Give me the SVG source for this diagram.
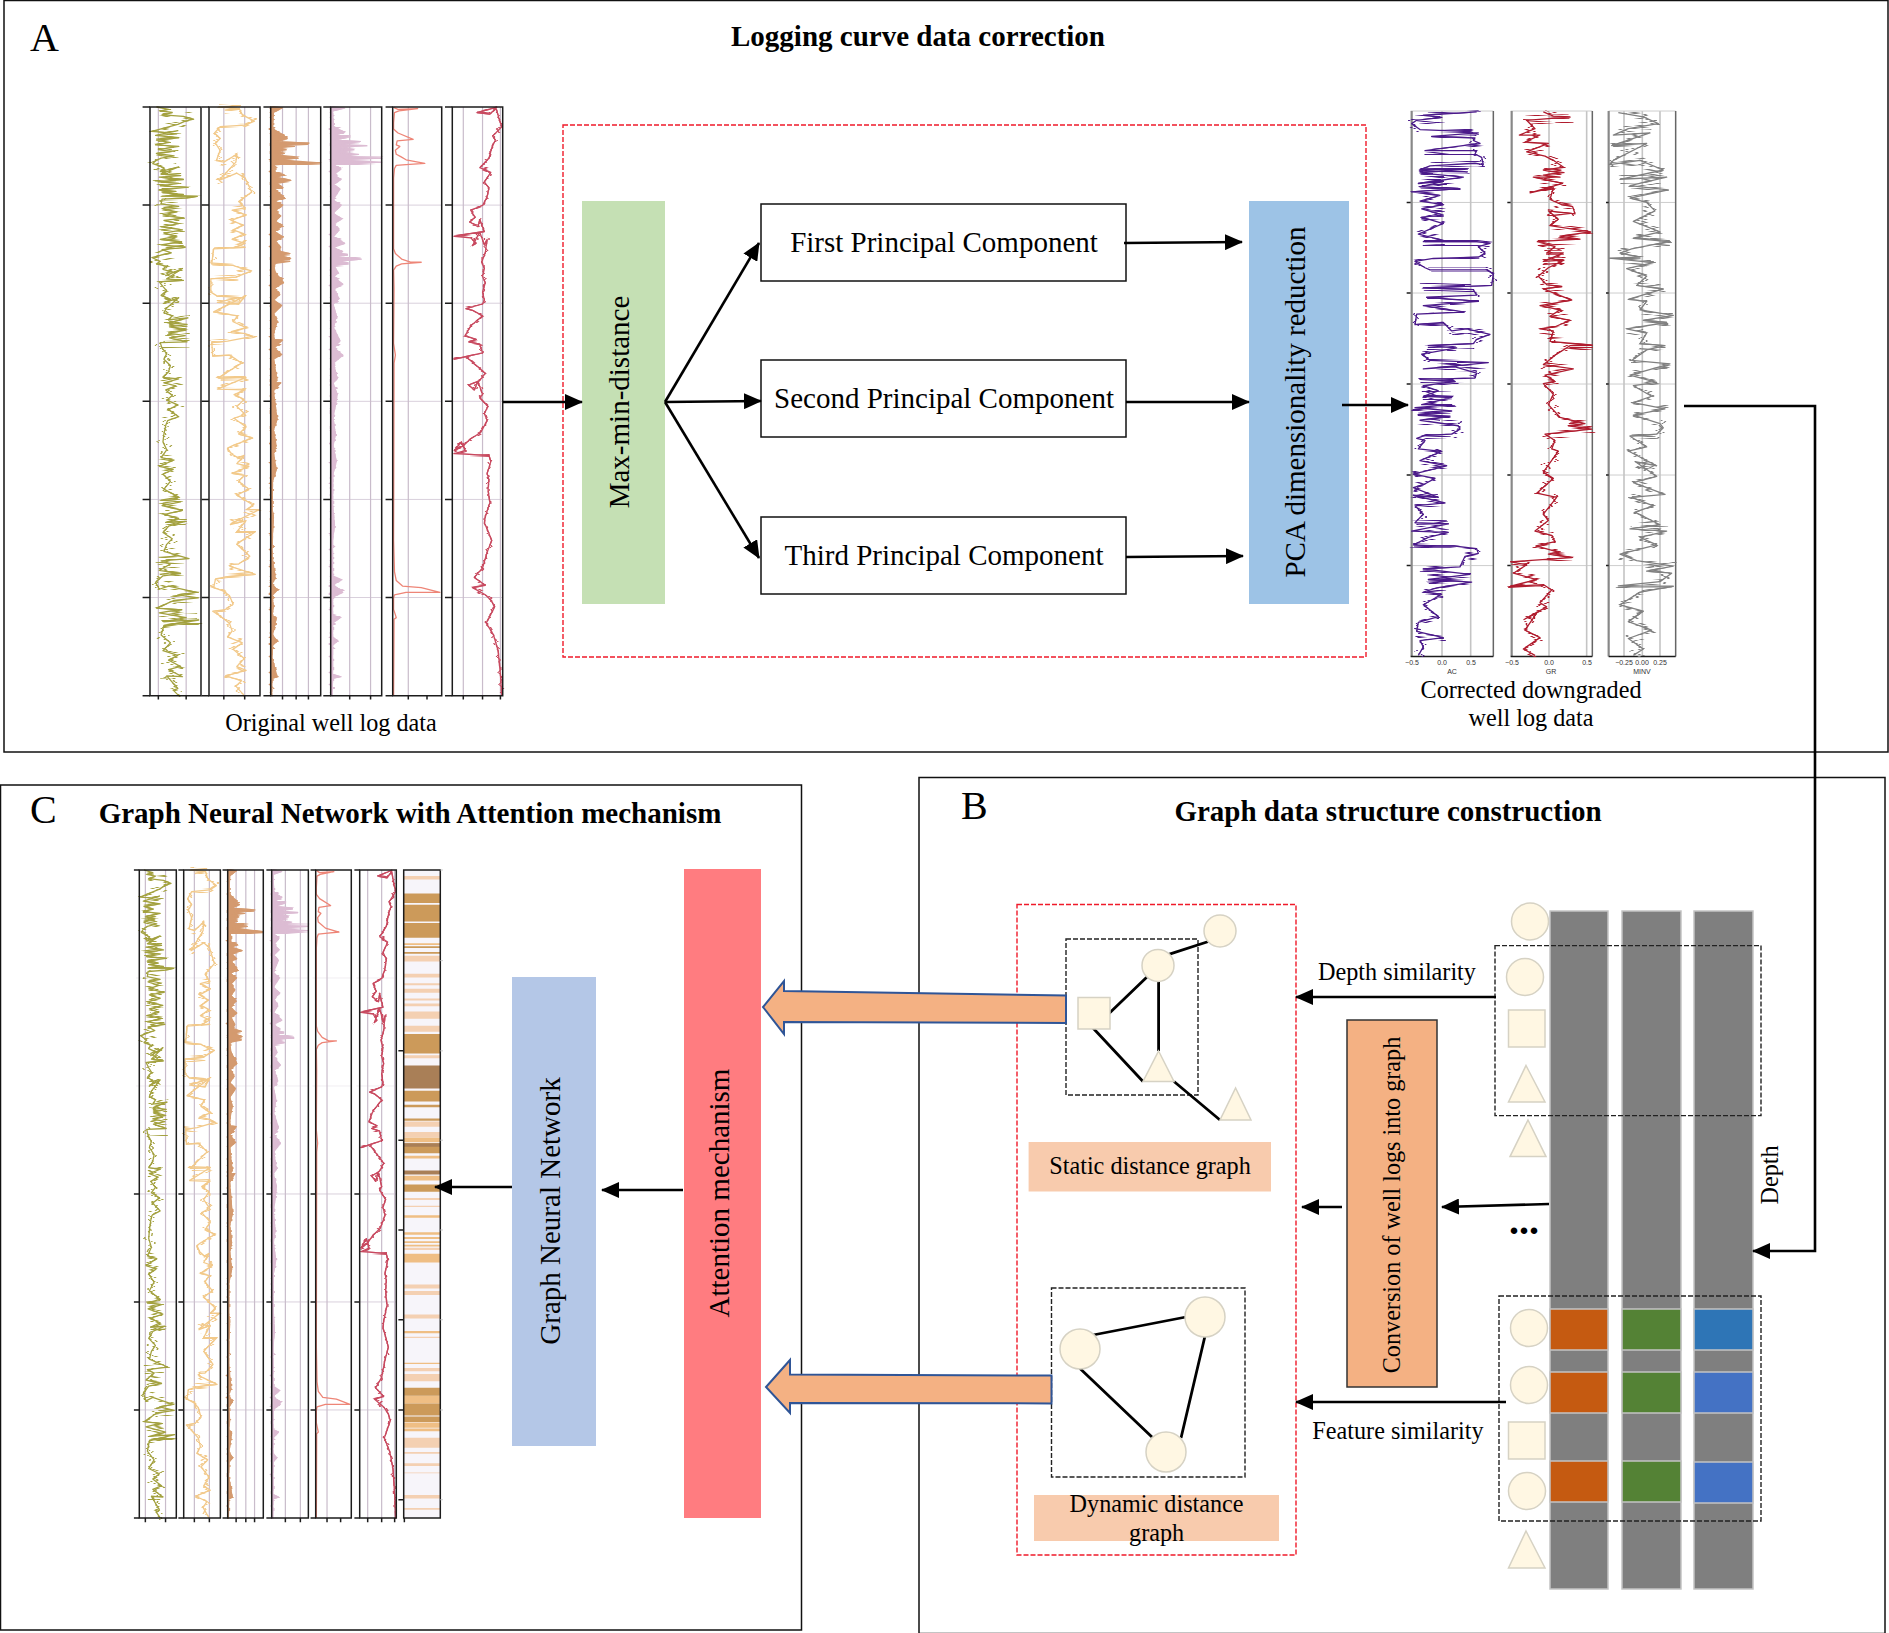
<svg xmlns="http://www.w3.org/2000/svg" xmlns:xlink="http://www.w3.org/1999/xlink" width="1889" height="1633" viewBox="0 0 1889 1633">
<style>
text{font-family:"Liberation Serif","Times New Roman",serif;fill:#000}
.b{font-weight:bold}
.m{text-anchor:middle}
.t{font-size:29px}
.s{font-size:24.2px}
.h{font-size:29px;font-weight:bold;text-anchor:middle}
.ax{font-family:"Liberation Sans",Arial,sans-serif;font-size:7px;fill:#333;text-anchor:middle}
.panel{fill:none;stroke:#111;stroke-width:1.5}
.red{fill:none;stroke:#f01a2a;stroke-width:1.4;stroke-dasharray:5 2}
.dash{fill:none;stroke:#222;stroke-width:1.4;stroke-dasharray:5 2}
.box{fill:#fff;stroke:#111;stroke-width:1.5}
.ar{fill:none;stroke:#000;stroke-width:2.6;marker-end:url(#ah)}
.ln{fill:none;stroke:#000;stroke-width:2.8}
.sh{fill:#fff7e3;stroke:#d6d2c4;stroke-width:1.5}
.big{fill:#f4b183;stroke:#2f5597;stroke-width:2}
.col{fill:#7f7f7f;stroke:#c4c4c4;stroke-width:1.5}
.cell{stroke:#c4c4c4;stroke-width:1.5}
.curve{fill:none;stroke-linejoin:round;vector-effect:non-scaling-stroke;stroke-width:1.3}
.fr{fill:none;stroke:#1c1c1c;stroke-width:1.5;vector-effect:non-scaling-stroke}
.gv{fill:none;stroke:#c9bccb;stroke-width:1.2;vector-effect:non-scaling-stroke}
.gh{fill:none;stroke:#d9d0dc;stroke-width:1;vector-effect:non-scaling-stroke}
.gl{fill:none;stroke:#f1eef2;stroke-width:1;vector-effect:non-scaling-stroke}
.gc{fill:none;stroke:#cdcdcd;stroke-width:1;vector-effect:non-scaling-stroke}
.gd{fill:none;stroke:#c4c4c4;stroke-width:1.6;vector-effect:non-scaling-stroke}
.jl{filter:url(#jl)}
.jm{filter:url(#jm)}
.js{filter:url(#js)}
.jc{filter:url(#jc)}
</style>
<defs>
<filter id="jl" x="-40%" y="-2%" width="180%" height="104%" color-interpolation-filters="sRGB"><feTurbulence type="fractalNoise" baseFrequency="0.0001 0.11" numOctaves="2" seed="3" result="n"/><feDisplacementMap in="SourceGraphic" in2="n" scale="60" xChannelSelector="R" yChannelSelector="A"/><feMorphology operator="dilate" radius="1 .5"/><feGaussianBlur stdDeviation=".6 .6"/></filter>
<filter id="jm" x="-40%" y="-2%" width="180%" height="104%" color-interpolation-filters="sRGB"><feTurbulence type="fractalNoise" baseFrequency="0.0001 0.09" numOctaves="2" seed="8" result="n"/><feDisplacementMap in="SourceGraphic" in2="n" scale="36" xChannelSelector="R" yChannelSelector="A"/><feMorphology operator="dilate" radius="1 .5"/><feGaussianBlur stdDeviation=".6 .6"/></filter>
<filter id="js" x="-40%" y="-2%" width="180%" height="104%" color-interpolation-filters="sRGB"><feTurbulence type="fractalNoise" baseFrequency="0.0001 0.1" numOctaves="2" seed="5" result="n"/><feDisplacementMap in="SourceGraphic" in2="n" scale="18" xChannelSelector="R" yChannelSelector="A"/><feMorphology operator="dilate" radius="1 .5"/><feGaussianBlur stdDeviation=".6 .6"/></filter>
<filter id="jc" x="-20%" y="-2%" width="140%" height="104%" color-interpolation-filters="sRGB"><feTurbulence type="fractalNoise" baseFrequency="0.0001 0.11" numOctaves="2" seed="11" result="n"/><feDisplacementMap in="SourceGraphic" in2="n" scale="50" xChannelSelector="R" yChannelSelector="A"/><feMorphology operator="dilate" radius="1 .5"/><feGaussianBlur stdDeviation=".6 .6"/></filter>
<marker id="ah" markerUnits="userSpaceOnUse" markerWidth="18" markerHeight="16" refX="17" refY="8" orient="auto"><path d="M0 0L18 8L0 16Z" fill="#000"/></marker>
<polyline id="c1" class="curve" stroke="#a3a13f" points="14,0 40,6 22,10 48,14 28,20 72,24 94,31 76,36 60,44 42,50 4,62 36,65 60,60 12,72 62,78 14,84 42,90 12,96 62,100 18,108 46,113 14,118 52,124 24,130 12,136 6,144 22,150 32,158 22,164 62,152 24,170 66,174 20,178 72,184 18,190 62,194 22,200 78,204 24,210 56,214 28,218 72,222 26,226 78,226 102,227 80,231 26,234 24,246 62,252 26,258 58,266 28,274 74,282 30,288 62,296 24,304 70,312 30,320 58,328 22,336 66,342 24,350 76,356 26,362 46,370 24,376 4,382 22,392 14,398 34,404 28,412 50,420 34,428 70,410 36,436 72,440 20,444 28,456 36,466 24,478 44,488 30,498 62,484 36,510 30,522 48,530 40,540 82,535 42,548 80,552 42,558 78,566 40,574 76,580 42,586 80,596 22,598 26,612 36,626 30,640 44,656 40,672 28,686 62,690 30,700 56,708 34,718 48,732 36,744 60,756 40,768 62,786 38,796 34,808 30,830 28,850 36,870 24,890 52,896 20,912 50,920 28,932 44,950 30,970 62,990 24,998 66,1002 26,1012 70,1024 32,1034 62,1044 34,1054 76,1052 40,1064 28,1080 48,1096 36,1110 30,1128 84,1146 24,1152 44,1160 20,1176 66,1184 28,1190 12,1206 20,1224 40,1216 100,1232 60,1238 104,1246 52,1252 14,1272 60,1276 20,1284 78,1296 30,1306 105,1302 30,1316 24,1340 44,1360 28,1380 60,1392 40,1404 66,1420 40,1428 70,1446 36,1444 60,1476 50,1480 62,1494"/>
<polyline id="c2" class="curve" stroke="#f2c98a" points="20,0 60,3 35,8 65,3 72,20 98,36 78,46 24,50 12,66 24,80 14,92 24,110 16,136 32,140 60,120 58,140 22,186 60,168 78,180 92,216 64,240 78,256 50,262 80,274 48,288 74,300 52,312 76,322 50,336 78,346 52,358 78,356 10,360 6,398 52,402 66,408 92,416 58,432 4,436 4,470 18,480 66,484 18,496 64,500 78,480 10,520 62,530 52,545 80,560 48,570 78,575 94,582 40,594 6,598 8,632 44,630 58,640 70,650 20,688 80,686 18,716 78,718 54,730 76,742 60,760 78,780 54,790 80,812 64,830 94,840 50,860 40,866 48,880 62,890 76,884 60,905 86,912 50,930 76,935 64,950 86,970 60,985 95,1010 80,1022 108,1022 50,1056 46,1060 80,1050 60,1078 100,1078 74,1098 60,1110 88,1140 64,1160 50,1160 44,1164 56,1170 100,1186 40,1192 14,1198 10,1220 30,1228 44,1240 52,1262 34,1276 8,1280 24,1292 44,1310 50,1330 40,1345 72,1360 52,1376 76,1400 60,1420 80,1430 36,1444 70,1456 58,1470 76,1494"/>
<polyline id="c3" class="curve" stroke="#d49a6f" style="fill:#d49a6f" points="0,0 8,0 26,2 6,14 4,50 10,60 30,72 8,76 36,80 6,88 84,92 8,96 52,100 10,104 34,108 10,112 30,118 8,124 60,130 18,134 108,142 8,146 10,166 30,172 10,178 44,186 12,192 26,204 8,208 30,230 8,238 26,250 8,264 22,276 10,290 26,302 8,316 28,330 10,340 22,356 14,366 42,372 14,376 44,384 16,390 42,392 14,396 6,400 10,420 28,446 8,460 20,476 6,490 24,504 6,524 14,544 6,576 8,590 26,592 6,610 24,628 6,640 14,694 6,700 22,700 6,720 10,760 14,792 6,820 12,860 6,880 12,920 4,950 3,1020 6,1040 4,1080 3,1140 10,1196 3,1210 14,1226 3,1240 6,1270 3,1290 12,1298 4,1340 14,1356 4,1366 3,1400 14,1446 3,1450 2,1494 0,1494"/>
<polyline id="c4" class="curve" stroke="#dcbcd3" style="fill:#dcbcd3" points="0,0 4,0 30,3 4,10 6,50 30,64 6,72 42,76 6,84 62,88 6,94 78,98 6,102 50,108 6,114 60,120 8,128 110,130 8,134 108,140 6,146 20,160 6,172 22,184 6,196 20,208 5,236 22,250 5,270 24,284 6,296 18,312 5,330 30,346 6,356 24,368 8,370 36,374 10,380 66,386 12,392 38,398 6,402 16,420 6,432 26,450 6,462 18,486 5,500 12,530 6,560 20,594 6,610 26,630 6,650 14,690 5,700 14,730 5,790 10,830 5,860 12,900 5,930 4,1010 8,1060 4,1100 4,1190 24,1200 5,1212 26,1232 4,1244 4,1290 20,1296 4,1310 4,1344 14,1356 4,1366 4,1440 20,1446 4,1450 3,1494 0,1494"/>
<polyline id="c5" class="curve" stroke="#ee8577" points="2,0 4,2 12,6 56,4 14,10 4,14 2,40 2,56 8,62 12,66 46,82 10,86 8,96 16,100 6,110 8,120 18,126 30,134 72,143 30,146 8,148 4,156 2,180 2,360 6,372 20,386 40,394 64,394 20,398 8,404 2,414 3,460 2,600 6,630 3,650 2,1100 4,1180 8,1202 22,1216 64,1220 106,1232 30,1232 4,1238 2,1246 2,1275 8,1296 3,1300 2,1494"/>
<polyline id="c6" class="curve" stroke="#c8495f" points="98,0 54,14 82,18 96,4 102,30 108,50 88,74 94,84 86,104 80,130 60,154 84,166 70,190 80,206 76,228 66,250 40,262 50,280 38,292 56,304 60,286 70,316 4,328 40,332 52,346 44,352 60,318 70,350 76,336 72,370 64,394 70,410 66,430 72,446 66,470 70,490 66,500 30,512 44,516 66,530 40,556 28,580 52,590 36,596 60,602 66,624 4,640 30,634 60,664 72,676 60,694 36,706 48,718 56,696 66,730 60,738 78,760 70,778 76,796 62,826 40,842 24,860 4,872 20,850 28,872 4,880 80,884 84,900 76,930 80,946 78,972 82,1004 72,1040 70,1056 78,1076 86,1100 76,1130 66,1170 48,1194 72,1214 44,1220 72,1238 86,1254 92,1270 74,1310 90,1340 100,1380 105,1440 108,1494"/>
<polyline id="p1" class="curve" stroke="#4b1a8a" points="290,50 130,58 185,63 110,70 95,78 120,92 270,97 280,100 295,100 155,108 285,112 280,118 300,125 135,142 290,142 285,150 305,158 310,175 285,172 150,178 118,188 262,186 120,195 250,205 115,220 190,215 120,228 240,232 95,240 180,248 120,262 190,270 125,280 190,295 125,300 190,315 115,340 190,355 130,358 290,358 330,362 295,370 315,385 295,395 160,398 105,405 135,420 150,425 320,425 340,435 335,462 130,468 280,472 290,485 140,490 295,500 130,510 250,525 110,530 105,555 190,550 215,570 260,565 330,578 290,590 280,600 145,605 230,610 125,625 150,640 325,645 130,660 225,655 290,670 285,682 120,685 225,690 130,700 175,712 130,725 215,728 125,745 215,745 105,752 215,760 115,768 210,772 120,782 235,795 240,803 215,815 135,818 110,825 135,830 115,850 185,856 120,878 200,890 100,910 165,920 130,935 100,942 175,965 100,960 195,978 105,985 130,1005 105,1025 205,1028 95,1045 205,1048 145,1060 100,1078 170,1080 220,1080 290,1087 295,1098 255,1105 240,1130 130,1135 270,1148 145,1160 275,1166 170,1180 130,1190 185,1195 130,1220 175,1248 115,1262 110,1283 190,1298 120,1305 130,1320 115,1340"/>
<polyline id="p2" class="curve" stroke="#b01c2e" points="490,50 520,60 570,62 440,70 465,90 418,105 480,105 435,122 505,125 440,145 495,155 520,165 552,182 490,188 540,195 490,200 540,205 460,205 548,220 450,242 520,230 510,258 545,270 578,275 585,292 505,285 535,305 510,320 632,335 540,345 600,352 472,358 525,370 500,385 550,385 490,405 552,402 505,420 475,440 500,460 545,465 490,470 575,497 480,510 540,520 510,535 570,545 525,560 480,565 520,570 510,595 637,604 570,605 530,625 490,650 580,660 495,675 525,690 490,695 520,720 505,745 540,775 615,790 565,795 635,803 495,815 525,830 515,850 535,855 490,905 520,920 470,955 530,965 490,1005 505,1020 465,1045 515,1055 525,1070 468,1080 535,1095 505,1100 575,1108 392,1118 440,1125 400,1145 470,1160 392,1176 490,1172 515,1185 480,1215 500,1225 432,1255 470,1240 435,1280 480,1298 430,1325 465,1340"/>
<polyline id="p3" class="curve" stroke="#808080" points="715,52 790,62 835,78 745,90 700,105 810,100 695,130 800,125 700,165 690,175 780,165 850,188 720,210 860,205 750,225 865,235 750,255 800,265 825,285 760,310 840,335 760,350 865,358 755,375 720,385 780,395 688,397 820,408 740,422 800,440 770,462 850,470 745,495 800,500 780,520 880,533 790,545 860,550 740,565 800,575 780,600 855,605 800,615 755,640 870,648 750,675 830,692 760,700 815,725 760,740 855,755 760,770 840,790 850,800 830,815 750,820 800,845 745,855 830,890 765,880 830,915 760,930 855,958 755,965 820,985 765,1000 840,1030 750,1040 860,1045 780,1060 830,1078 720,1100 770,1115 880,1128 800,1140 875,1145 840,1165 715,1175 880,1176 780,1190 720,1220 790,1235 745,1260 815,1280 745,1300 790,1325 760,1340"/>
<path id="fr" class="fr" d="M0 0H110V1494H0Z"/>
<path id="tk" class="fr" d="M-16 0H0M-16 249H0M-16 498H0M-16 747H0M-16 996H0M-16 1245H0M-16 1494H0"/>
<path id="hA" class="gh" d="M0 249H110M0 498H110M0 747H110M0 996H110M0 1245H110"/>
<path id="hC" class="gh" d="M0 747H110M0 996H110M0 1245H110"/>
<path id="hL" class="gl" d="M-10 249H110M-10 498H110"/>
<path id="tC" class="fr" d="M-16 0H0M-16 747H0M-16 996H0M-16 1245H0M-16 1494H0"/>
<path id="v1" class="gv" d="M18 0V1494M78 0V1494"/>
<path id="v2" class="gv" d="M32 0V1494M77 0V1494"/>
<path id="v3" class="gv" d="M26 0V1494M56 0V1494M83 0V1494"/>
<path id="v4" class="gv" d="M41 0V1494M86 0V1494"/>
<path id="v5" class="gv" d="M35 0V1494"/>
<path id="v6" class="gv" d="M24 0V1494M66 0V1494M105 0V1494"/>
<path id="b1" class="fr" d="M18 1494v10M78 1494v10"/>
<path id="b2" class="fr" d="M32 1494v10M77 1494v10"/>
<path id="b3" class="fr" d="M26 1494v10M56 1494v10M83 1494v10"/>
<path id="b4" class="fr" d="M41 1494v10M86 1494v10"/>
<path id="b5" class="fr" d="M35 1494v10M77 1494v10"/>
<path id="b6" class="fr" d="M24 1494v10M66 1494v10M105 1494v10"/>
</defs>

<g id="panel-A">
<rect class="panel" x="4" y="0.5" width="1884" height="751.5"/>
<text x="30" y="51" font-size="40">A</text>
<text class="h" x="918" y="46">Logging curve data correction</text>
</g>
<g id="panel-B">
<rect class="panel" x="919" y="777.5" width="966" height="856"/>
<text x="961" y="819" font-size="40">B</text>
<text class="h" x="1388" y="821">Graph data structure construction</text>
</g>
<g id="panel-C">
<rect class="panel" x="0.5" y="785" width="801" height="845"/>
<text x="30" y="823" font-size="40">C</text>
<text class="h" x="410" y="823">Graph Neural Network with Attention mechanism</text>
</g>

<g id="original-logs">
<g transform="translate(150,107) scale(.4636,.394)"><use href="#hA"/><use href="#v1"/><use href="#c1"/><use href="#c1" class="jl"/><use href="#fr"/><use href="#tk"/><use href="#b1"/></g>
<g transform="translate(209,107) scale(.4636,.394)"><use href="#hA"/><use href="#v2"/><use href="#c2"/><use href="#c2" class="jm"/><use href="#fr"/><use href="#tk"/><use href="#b2"/></g>
<g transform="translate(270.7,107) scale(.4545,.394)"><use href="#hA"/><use href="#v3"/><use href="#c3"/><use href="#c3" class="js"/><use href="#fr"/><use href="#tk"/><use href="#b3"/></g>
<g transform="translate(330.7,107) scale(.4636,.394)"><use href="#hA"/><use href="#v4"/><use href="#c4"/><use href="#c4" class="js"/><use href="#fr"/><use href="#tk"/><use href="#b4"/></g>
<g transform="translate(392.7,107) scale(.4455,.394)"><use href="#hA"/><use href="#v5"/><use href="#c5"/><use href="#fr"/><use href="#tk"/><use href="#b5"/></g>
<g transform="translate(452.3,107) scale(.4582,.394)"><use href="#hA"/><use href="#v6"/><use href="#c6"/><use href="#c6" class="js"/><use href="#fr"/><use href="#tk"/><use href="#b6"/></g>
<text class="s m" x="331" y="731">Original well log data</text>
</g>

<g id="red-frame-A"><rect class="red" x="563" y="125" width="803" height="532"/></g>
<g id="max-min"><rect x="582" y="201" width="83" height="403" fill="#c5e0b4"/><text class="t m" transform="translate(629,402) rotate(-90)">Max-min-distance</text></g>
<g id="pc1"><rect class="box" x="761" y="204" width="365" height="77"/><text class="t m" x="944" y="252">First Principal Component</text></g>
<g id="pc2"><rect class="box" x="761" y="360" width="365" height="77"/><text class="t m" x="944" y="408">Second Principal Component</text></g>
<g id="pc3"><rect class="box" x="761" y="517" width="365" height="77"/><text class="t m" x="944" y="565">Third Principal Component</text></g>
<g id="pca"><rect x="1249" y="201" width="100" height="403" fill="#9dc3e6"/><text class="t m" transform="translate(1305,402) rotate(-90)">PCA dimensionality reduction</text></g>

<g id="corrected-logs">
<g transform="translate(1380,90.8) scale(.33333,.4213)">
<path class="gc" d="M92 265H340M92 480H340M92 696H340M92 912H340M92 1127H340M392 265H637M392 480H637M392 696H637M392 912H637M392 1127H637M686 265H887M686 480H887M686 696H887M686 912H887M686 1127H887"/>
<path class="gd" d="M186 48V1343M272 48V1343M507 48V1343M620 48V1343M732 48V1343M787 48V1343M840 48V1343"/>
<path class="gc" d="M92 48H340M392 48H637M686 48H887"/>
<path class="fr" style="stroke:#888;stroke-width:2.2" d="M95 48V1343M395 48V1343M686 48V1343"/>
<path class="fr" style="stroke:#666" d="M340 48V1343M637 48V1343M887 48V1343"/>
<path class="fr" d="M92 1343H340M392 1343H637M686 1343H887M80 265H92M80 480H92M80 696H92M80 912H92M80 1127H92M382 265H392M382 480H392M382 696H392M382 912H392M382 1127H392M678 265H686M678 480H686M678 696H686M678 912H686M678 1127H686"/>
<use href="#p1"/><use href="#p1" class="jc"/>
<use href="#p2"/><use href="#p2" class="jc"/>
<use href="#p3"/><use href="#p3" class="jc"/>
</g>
<text class="ax" x="1412" y="665">−0.5</text><text class="ax" x="1442" y="665">0.0</text><text class="ax" x="1471" y="665">0.5</text>
<text class="ax" x="1512" y="665">−0.5</text><text class="ax" x="1549" y="665">0.0</text><text class="ax" x="1587" y="665">0.5</text>
<text class="ax" x="1624" y="665">−0.25</text><text class="ax" x="1642" y="665">0.00</text><text class="ax" x="1660" y="665">0.25</text>
<text class="ax" x="1452" y="674">AC</text><text class="ax" x="1551" y="674">GR</text><text class="ax" x="1642" y="674">MINV</text>
<text class="s m" x="1531" y="697.5">Corrected downgraded</text>
<text class="s m" x="1531" y="726">well log data</text>
</g>

<g id="gnn-logs">
<g transform="translate(139.3,870) scale(.3364,.4337)"><use href="#hC"/><use href="#hL"/><use href="#v1"/><use href="#c1"/><use href="#c1" class="jl"/><use href="#fr"/><use href="#tC"/><use href="#b1"/></g>
<g transform="translate(183.7,870) scale(.3333,.4337)"><use href="#hC"/><use href="#hL"/><use href="#v2"/><use href="#c2"/><use href="#c2" class="jm"/><use href="#fr"/><use href="#tC"/><use href="#b2"/></g>
<g transform="translate(227.7,870) scale(.3236,.4337)"><use href="#hC"/><use href="#hL"/><use href="#v3"/><use href="#c3"/><use href="#c3" class="js"/><use href="#fr"/><use href="#tC"/><use href="#b3"/></g>
<g transform="translate(271.7,870) scale(.3333,.4337)"><use href="#hC"/><use href="#hL"/><use href="#v4"/><use href="#c4"/><use href="#c4" class="js"/><use href="#fr"/><use href="#tC"/><use href="#b4"/></g>
<g transform="translate(315.7,870) scale(.3236,.4337)"><use href="#hC"/><use href="#hL"/><use href="#v5"/><use href="#c5"/><use href="#fr"/><use href="#tC"/><use href="#b5"/></g>
<g transform="translate(359.7,870) scale(.3327,.4337)"><use href="#hC"/><use href="#hL"/><use href="#v6"/><use href="#c6"/><use href="#c6" class="js"/><use href="#fr"/><use href="#tC"/><use href="#b6"/></g>
<g id="facies" transform="translate(403.7,870) scale(.3327,.4337)">
<rect width="110" height="1494" fill="#f7f5fa"/>
<path fill="#f4d0b2" d="M0 14h110v8H0ZM0 198h110v13H0ZM0 239h110v9H0ZM0 261h110v5H0ZM0 274h110v9H0ZM0 296h110v5H0ZM0 308h110v6H0ZM0 326h110v17H0ZM0 359h110v14H0ZM0 427h110v7H0ZM0 580h110v12H0ZM0 604h110v12H0ZM0 756h110v5H0ZM0 774h110v3H0ZM0 871h110v5H0ZM0 956h110v9H0ZM0 971h110v9H0ZM0 1025h110v9H0ZM0 1076h110v3H0ZM0 1148h110v8H0ZM0 1162h110v17H0ZM0 1309h110v23H0ZM0 1342h110v4H0ZM0 1368h110v6H0ZM0 1389h110v2H0ZM0 1441h110v8H0ZM0 1471h110v4H0Z"/>
<path fill="#efbe84" d="M0 169h110v4H0ZM0 617h110v11H0ZM0 659h110v6H0ZM0 705h110v11H0ZM0 796h110v6H0ZM0 835h110v6H0ZM0 846h110v5H0ZM0 856h110v4H0ZM0 864h110v4H0ZM0 885h110v20H0ZM0 1063h110v5H0ZM0 1136h110v3H0ZM0 1212h110v18H0ZM0 1274h110v12H0ZM0 1288h110v6H0Z"/>
<path fill="#cc9a5a" d="M0 54h110v22H0ZM0 80h110v39H0ZM0 122h110v34H0ZM0 176h110v4H0ZM0 189h110v4H0ZM0 378h110v45H0ZM0 509h110v25H0ZM0 541h110v6H0ZM0 573h110v5H0ZM0 630h110v23H0ZM0 725h110v17H0ZM0 1194h110v18H0ZM0 1230h110v28H0ZM0 1260h110v13H0Z"/>
<path fill="#a97f57" d="M0 451h110v53H0ZM0 630h110v8H0ZM0 693h110v9H0Z"/>
<use href="#fr"/>
<path class="fr" d="M-16 417H0M-16 623H0M-16 830H0M-16 1037H0M-16 1245H0M-16 1452H0M2 1494v10"/>
<path class="gc" d="M110 0h8M110 209h8M110 417h8M110 623h8M110 830h8M110 1037h8M110 1245h8M110 1452h8"/>
</g>
</g>

<g id="gnn"><rect x="512" y="977" width="84" height="469" fill="#b4c7e7"/><text class="t m" transform="translate(560,1211) rotate(-90)">Graph Neural Network</text></g>
<g id="attention"><rect x="684" y="869" width="77" height="649" fill="#ff7c80"/><text class="t m" transform="translate(729,1193) rotate(-90)">Attention mechanism</text></g>

<g id="red-frame-B"><rect class="red" x="1017" y="904.5" width="279" height="650.5"/></g>
<g id="static-graph">
<rect class="dash" x="1066" y="939" width="132" height="156"/>
<path class="ln" d="M1168 954.6L1210 941M1109 1013.6L1148 976M1158.6 980.5V1051M1093 1028L1143 1081.5M1174 1081.5L1220 1120"/>
<circle class="sh" cx="1220" cy="931" r="16"/>
<circle class="sh" cx="1158" cy="965.4" r="16"/>
<rect class="sh" x="1078" y="997.5" width="32" height="31.5"/>
<path class="sh" d="M1158.6 1051L1174 1081.5H1143Z"/>
<path class="sh" d="M1235.6 1088L1251 1120H1220Z"/>
<rect x="1028.6" y="1142" width="242.4" height="49.5" fill="#f8cbad"/>
<text class="s m" x="1150" y="1174">Static distance graph</text>
</g>
<g id="dynamic-graph">
<rect class="dash" x="1051.5" y="1288" width="193.5" height="189"/>
<path class="ln" d="M1093 1335L1186 1317M1205 1336L1181 1438M1080 1368.5L1153 1438"/>
<circle class="sh" cx="1080" cy="1349" r="20"/>
<circle class="sh" cx="1205" cy="1317" r="20"/>
<circle class="sh" cx="1166" cy="1452" r="20"/>
<rect x="1034" y="1495" width="245" height="46" fill="#f8cbad"/>
<text class="s m" x="1156.6" y="1512">Dynamic distance</text>
<text class="s m" x="1156.6" y="1541">graph</text>
</g>
<g id="conversion"><rect x="1347" y="1020" width="90" height="367" fill="#f4b183" stroke="#333" stroke-width="1.5"/><text class="s m" transform="translate(1400,1205) rotate(-90)">Conversion of well logs into graph</text></g>

<g id="feature-columns">
<rect class="col" x="1550" y="911" width="58" height="678"/>
<rect class="col" x="1622" y="911" width="59" height="678"/>
<rect class="col" x="1694" y="911" width="59" height="678"/>
<g class="cell">
<rect x="1550" y="1309" width="58" height="41" fill="#c55a11"/><rect x="1550" y="1372" width="58" height="41" fill="#c55a11"/><rect x="1550" y="1461" width="58" height="41" fill="#c55a11"/>
<rect x="1622" y="1309" width="59" height="41" fill="#548235"/><rect x="1622" y="1372" width="59" height="41" fill="#548235"/><rect x="1622" y="1461" width="59" height="41" fill="#548235"/>
<rect x="1694" y="1309" width="59" height="41" fill="#2e75b6"/><rect x="1694" y="1372" width="59" height="41" fill="#4472c4"/><rect x="1694" y="1462" width="59" height="41" fill="#4472c4"/>
</g>
<circle class="sh" cx="1530" cy="921.5" r="18.5"/>
<circle class="sh" cx="1525" cy="977" r="18.5"/>
<rect class="sh" x="1508.5" y="1010" width="36.5" height="37"/>
<path class="sh" d="M1526 1065.5L1545 1102H1508.5Z"/>
<path class="sh" d="M1528 1120L1546 1156.6H1510Z"/>
<circle class="sh" cx="1529" cy="1328" r="18.5"/>
<circle class="sh" cx="1529" cy="1385" r="18.5"/>
<rect class="sh" x="1508.5" y="1422" width="36.5" height="37"/>
<circle class="sh" cx="1527" cy="1491" r="18.5"/>
<path class="sh" d="M1526 1531L1545 1568H1508.5Z"/>
<rect class="dash" x="1495" y="945.6" width="266" height="170"/>
<rect class="dash" x="1499" y="1296" width="262" height="225"/>
<text class="b m" x="1524" y="1234" font-size="40">...</text>
<text class="s m" transform="translate(1778,1175) rotate(-90)">Depth</text>
</g>

<g id="labels">
<text class="s m" x="1397" y="980">Depth similarity</text>
<text class="s m" x="1398" y="1439">Feature similarity</text>
</g>

<g id="connectors">
<path class="ar" d="M503 402H582"/>
<path class="ar" d="M665 402L759 243"/>
<path class="ar" d="M665 402L761 401"/>
<path class="ar" d="M665 402L759 558"/>
<path class="ar" d="M1124 243L1242 242"/>
<path class="ar" d="M1126 402H1249"/>
<path class="ar" d="M1126 557L1243 556"/>
<path class="ar" d="M1342 405H1408"/>
<path class="ar" d="M1684 406H1815V1251H1753"/>
<path class="ar" d="M1496 997H1296"/>
<path class="ar" d="M1342 1207H1302"/>
<path class="ar" d="M1549 1204L1442 1207"/>
<path class="ar" d="M1506 1402H1296"/>
<path class="ar" d="M683 1190H602"/>
<path class="ar" d="M512 1187H435"/>
<path class="big" d="M1066 995.5V1023L784 1022V1034L763 1007L784 981V991Z"/>
<path class="big" d="M1051.5 1375.6V1403.4L790 1403V1413L766 1387L790 1360V1374.5Z"/>
</g>
</svg>
